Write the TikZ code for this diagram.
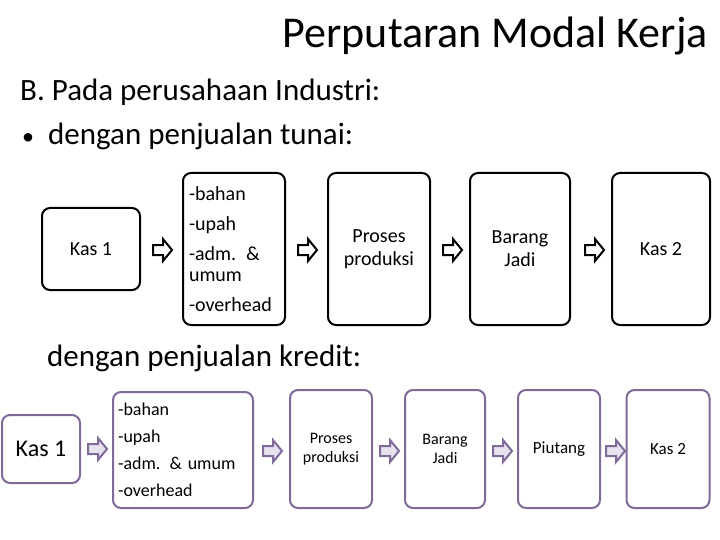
\documentclass[tikz,border=0pt]{standalone}
\usepackage{fontspec}
\setmainfont{Carlito}
\usetikzlibrary{positioning}
\definecolor{boxpurple}{RGB}{128,106,154}
\definecolor{arrowfill}{RGB}{232,226,240}
\tikzset{x=1pt,y=-1pt,
  topbox/.style={draw=black,line width=2pt,rounded corners=8pt,fill=white,align=center,font=\fontsize{20}{23}\selectfont},
  botbox/.style={draw=boxpurple,line width=2pt,rounded corners=8pt,fill=white,align=center,font=\fontsize{16}{19}\selectfont},
  toparrow/.style={draw=black,line width=2pt,fill=white,line join=miter},
  botarrow/.style={draw=boxpurple,line width=2pt,fill=arrowfill,line join=miter}}
% blok panah: #1 gaya, #2 pusat
\newcommand\blokpanah[2]{\draw[#1,shift={#2}] (-9,-5) -- (1,-5) -- (1,-11) -- (10,0) -- (1,11) -- (1,5) -- (-9,5) -- cycle;}
\begin{document}
\begin{tikzpicture}
\useasboundingbox (0,0) rectangle (720,540);
% judul
\node[anchor=base east,inner sep=0pt,font=\fontsize{44}{48}\selectfont] (judul) at (708,48) {Perputaran Modal Kerja};
\node[anchor=base west,inner sep=0pt,font=\fontsize{31}{36}\selectfont] (sub) at (20,101) {B. Pada perusahaan Industri:};
\node[anchor=base west,inner sep=0pt,font=\fontsize{31}{36}\selectfont] (tunai) at (22,145) {{\fontsize{24}{24}\selectfont\textbullet}\ \ dengan penjualan tunai:};
\node[anchor=base west,inner sep=0pt,font=\fontsize{31}{36}\selectfont] (kredit) at (47,366) {dengan penjualan kredit:};

% penjualan tunai
\node[topbox,minimum width=98pt,minimum height=82pt] (kas1) at (91,249) {Kas 1};
\node[topbox,minimum width=102pt,minimum height=152pt,align=left,text width=90pt,font=\fontsize{20}{30}\selectfont] (biaya) at (234,249) {-bahan\\-upah\\-adm. \&\\[-9pt]umum\\-overhead};
\node[topbox,minimum width=102pt,minimum height=152pt] (proses) at (379,249) {Proses\\produksi};
\node[topbox,minimum width=100pt,minimum height=152pt] (barang) at (520,249) {Barang\\Jadi};
\node[topbox,minimum width=98pt,minimum height=152pt] (kas2) at (661,249) {Kas 2};
\blokpanah{toparrow}{(162,250)}
\blokpanah{toparrow}{(307,250)}
\blokpanah{toparrow}{(452,250)}
\blokpanah{toparrow}{(594,250)}

% penjualan kredit
\node[botbox,minimum width=78pt,minimum height=68pt,font=\fontsize{24}{28}\selectfont] (kkas1) at (41,449) {Kas 1};
\node[botbox,minimum width=140pt,minimum height=116pt,align=left,text width=130pt,font=\fontsize{18}{27}\selectfont] (kbiaya) at (183,450) {-bahan\\-upah\\-adm. \& umum\\-overhead};
\node[botbox,minimum width=82pt,minimum height=118pt] (kproses) at (331,449) {Proses\\produksi};
\node[botbox,minimum width=80pt,minimum height=118pt] (kbarang) at (445,449) {Barang\\Jadi};
\node[botbox,minimum width=82pt,minimum height=118pt,font=\fontsize{17}{20}\selectfont] (piutang) at (559,449) {Piutang};
\node[botbox,minimum width=83pt,minimum height=118pt,font=\fontsize{17}{20}\selectfont] (kkas2) at (668,449) {Kas 2};
\blokpanah{botarrow}{(97,449)}
\blokpanah{botarrow}{(272,451)}
\blokpanah{botarrow}{(389,451)}
\blokpanah{botarrow}{(502,451)}
\blokpanah{botarrow}{(615,451)}
\end{tikzpicture}
\end{document}
